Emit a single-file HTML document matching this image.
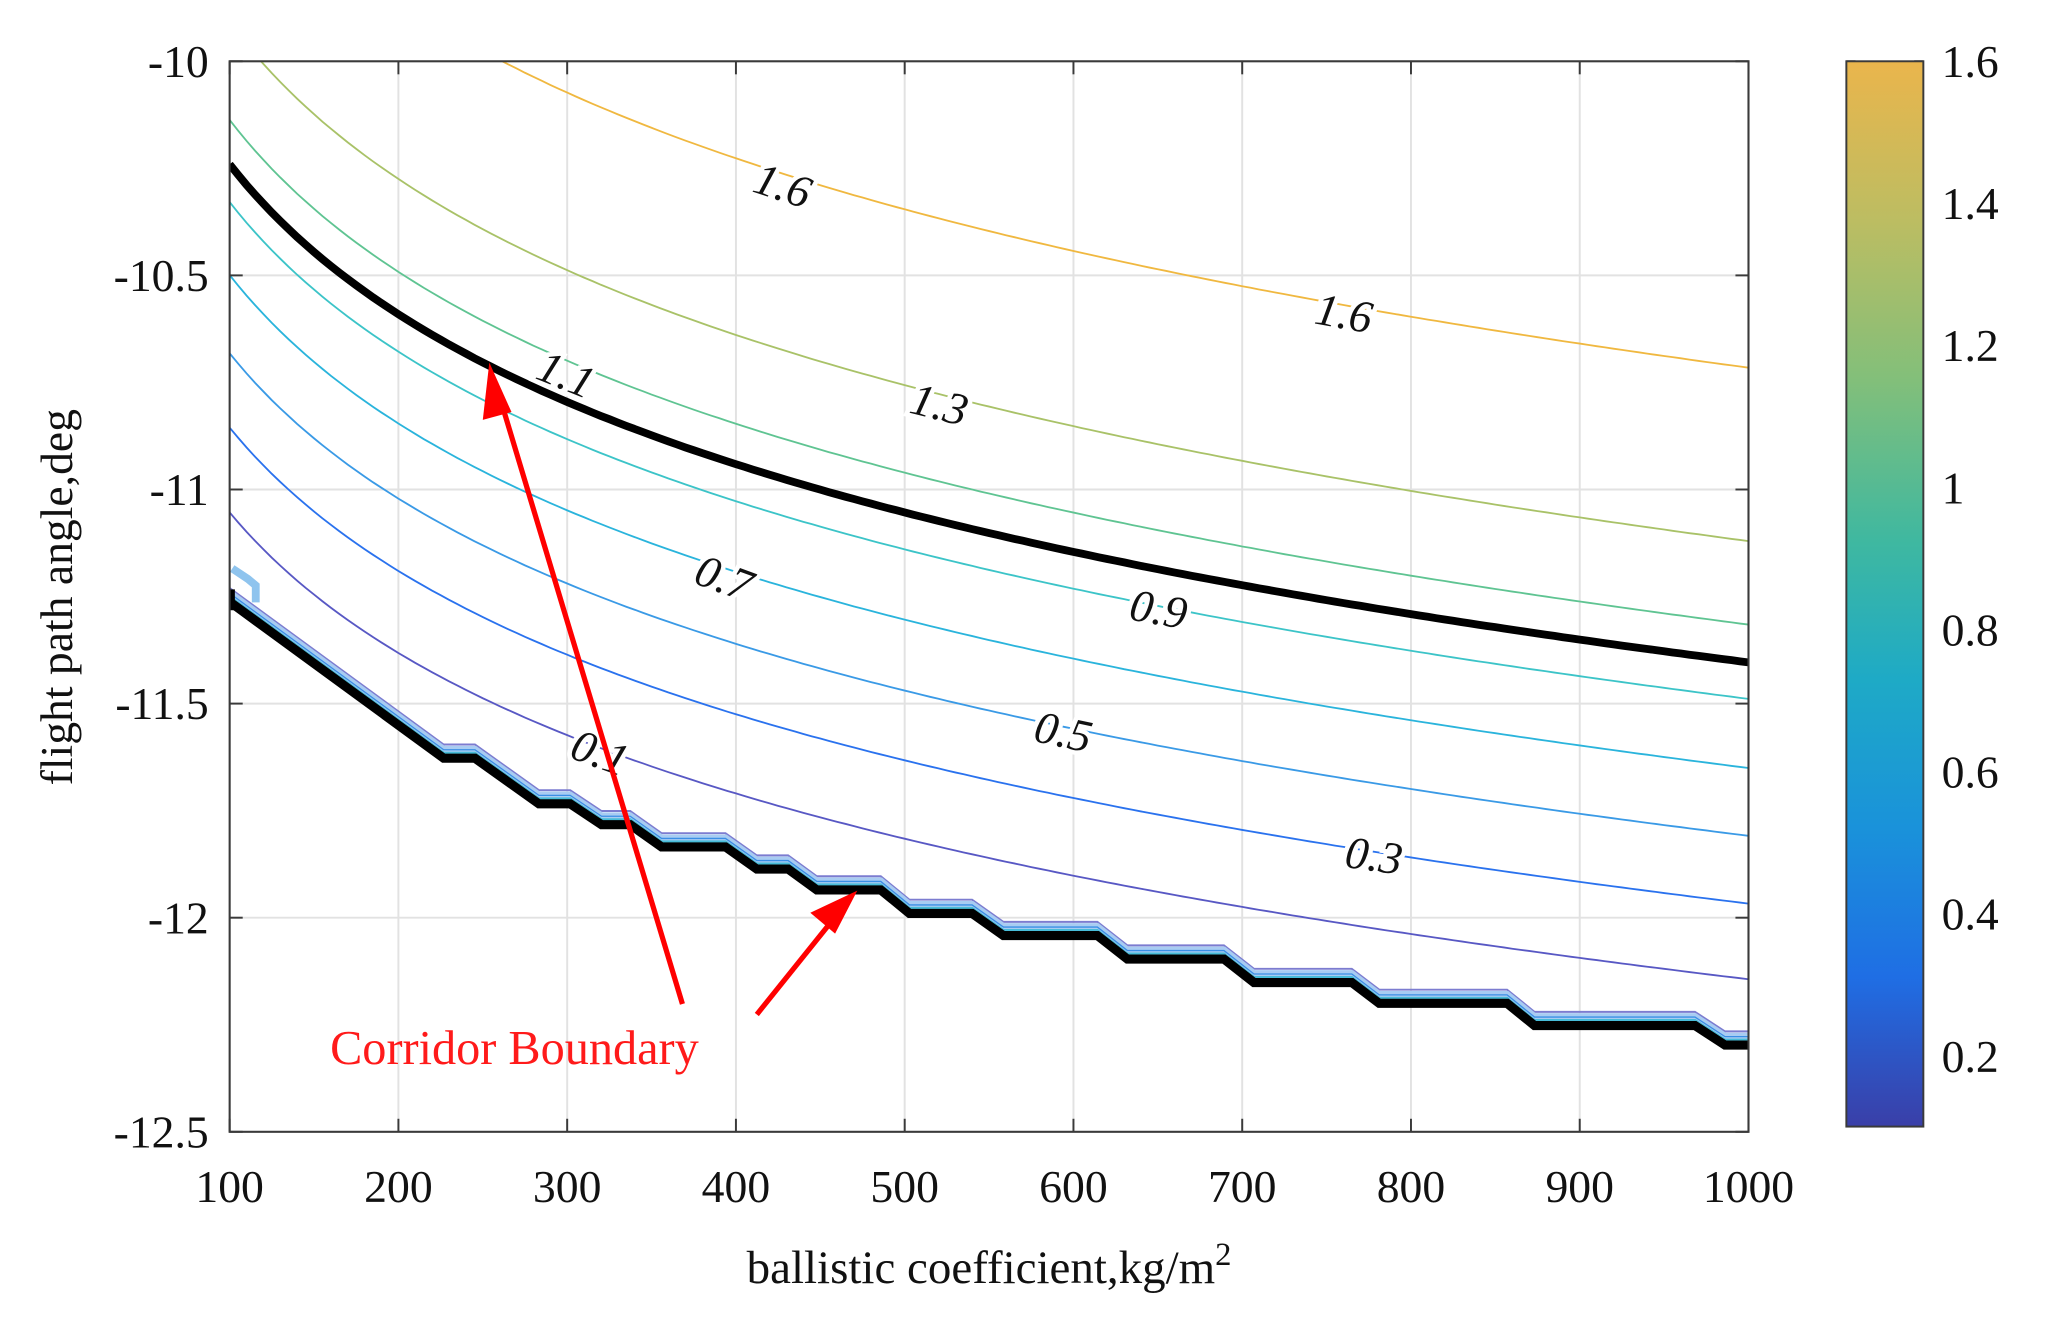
<!DOCTYPE html>
<html><head><meta charset="utf-8"><style>
html,body{margin:0;padding:0;background:#fff;}
svg{display:block;}
text{font-family:"Liberation Serif",serif;}
</style></head><body>
<svg id="s" width="2046" height="1330" viewBox="0 0 1568 1020" preserveAspectRatio="none" xmlns="http://www.w3.org/2000/svg">
<defs>
<linearGradient id="cb" x1="0" y1="0" x2="0" y2="1">
<stop offset="0" stop-color="#eab54c"/>
<stop offset="0.15" stop-color="#bcbd62"/>
<stop offset="0.3" stop-color="#82bf7a"/>
<stop offset="0.45" stop-color="#3fb8a0"/>
<stop offset="0.58" stop-color="#1eaac6"/>
<stop offset="0.72" stop-color="#1a92da"/>
<stop offset="0.86" stop-color="#1f6ee4"/>
<stop offset="1" stop-color="#3a3fa8"/>
</linearGradient>
<clipPath id="pc"><rect x="176" y="47" width="1164" height="821"/></clipPath>
</defs>
<g id="grid" stroke="#e2e2e2" stroke-width="1.5"></g>
<g id="curves" clip-path="url(#pc)" fill="none"></g>
<g id="stairs" clip-path="url(#pc)" fill="none" stroke-linejoin="miter"></g>
<rect x="176" y="47" width="1164" height="821" fill="none" stroke="#3a3a3a" stroke-width="1.6"/>
<g id="ticks" stroke="#3a3a3a" stroke-width="1.5"></g>
<g id="labels" font-size="35" fill="#111" text-anchor="middle" dominant-baseline="central" stroke="#fff" stroke-width="7" paint-order="stroke" font-style="italic">
<text transform="translate(600,142) rotate(18)">1.6</text>
<text transform="translate(1030,240) rotate(10)">1.6</text>
<text transform="translate(434,287) rotate(22)">1.1</text>
<text transform="translate(720,310) rotate(14)">1.3</text>
<text transform="translate(555,443) rotate(20)">0.7</text>
<text transform="translate(888,467) rotate(10)">0.9</text>
<text transform="translate(815,561) rotate(12)">0.5</text>
<text transform="translate(1053,656) rotate(8)">0.3</text>
<text transform="translate(460,577) rotate(20)">0.1</text>
</g>
<g stroke="red" stroke-width="4" fill="red">
<line x1="523" y1="770" x2="381" y2="298"/>
<polygon points="375,278 370,322 392,316" stroke="none"/>
<line x1="580" y1="778" x2="645" y2="697"/>
<polygon points="657,683 621,700 640,716" stroke="none"/>
</g>
<text x="253" y="816" font-size="37" fill="#ff1a1a">Corridor Boundary</text>
<g id="xt" font-size="35" fill="#111" text-anchor="middle"></g>
<g id="yt" font-size="35" fill="#111" text-anchor="end"></g>
<text x="758" y="984" font-size="36" fill="#111" text-anchor="middle">ballistic coefficient,kg/m<tspan dy="-14" font-size="25">2</tspan></text>
<text transform="translate(55,458) rotate(-90)" font-size="35" fill="#111" text-anchor="middle">flight path angle,deg</text>
<rect x="1415" y="47" width="59" height="817" fill="url(#cb)" stroke="#3a3a3a" stroke-width="1.5"/>
<g id="cbt" font-size="35" fill="#111"></g>
</svg>
<script>
var NS="http://www.w3.org/2000/svg";
function el(p,n,a,t){var e=document.createElementNS(NS,n);for(var k in a)e.setAttribute(k,a[k]);if(t)e.textContent=t;document.getElementById(p).appendChild(e);return e;}
function X(b){return 176+(b-100)*1.29333;}
function Y(v){return 47+(-10-v)*328.4;}
for(var b=100;b<=1000;b+=100){var x=X(b);
 if(b>100&&b<1000)el("grid","line",{x1:x,y1:47,x2:x,y2:868});
 el("ticks","line",{x1:x,y1:868,x2:x,y2:858});el("ticks","line",{x1:x,y1:47,x2:x,y2:57});
 el("xt","text",{x:x,y:922},String(b));}
for(var i=0;i<=5;i++){var v=-10-0.5*i,y=Y(v);
 if(i>0&&i<5)el("grid","line",{x1:176,y1:y,x2:1340,y2:y});
 el("ticks","line",{x1:176,y1:y,x2:186,y2:y});el("ticks","line",{x1:1340,y1:y,x2:1330,y2:y});
 el("yt","text",{x:160,y:y+12},String(v));}
var cv=[1.6,1.4,1.2,1,0.8,0.6,0.4,0.2];
for(var i=0;i<cv.length;i++){var y=47+(1.6-cv[i])*545;
 el("ticks","line",{x1:1415,y1:y,x2:1422,y2:y});el("ticks","line",{x1:1474,y1:y,x2:1467,y2:y});
 el("cbt","text",{x:1488,y:y+12},String(cv[i]));}
function g(b){return Math.log(b);}
var g1=g(100),g2=g(1000);
var L=[
 {c:"#f0b840",t:"top",bx:(385-176)/1.29333+100,yR:282},
 {c:"#a9c268",t:"top",bx:(200-176)/1.29333+100,yR:415},
 {c:"#5fc492",yL:92,yR:479},
 {c:"#000",yL:126,yR:508,w:6},
 {c:"#3cc4c8",yL:155,yR:536},
 {c:"#2ab4dc",yL:211,yR:589},
 {c:"#3a9ae6",yL:271,yR:641},
 {c:"#2a72ee",yL:328,yR:693},
 {c:"#5858c4",yL:393,yR:751}
];
L.forEach(function(o){var d="";
 for(var b=100;b<=1000;b+=5){var y;
  if(o.t){var gs=g(o.bx);var sl=(o.yR-47)/(g2-gs);y=o.yR+sl*(g(b)-g2);}
  else y=o.yL+(o.yR-o.yL)*(g(b)-g1)/(g2-g1);
  d+=(d?"L":"M")+X(b).toFixed(1)+","+y.toFixed(1);}
 el("curves","path",{d:d,stroke:o.c,"stroke-width":o.w||1.4});});
var P=[[176,465],[340,585],[364,585],[413,620],[437,620],[461,636],[483,636],[507,653],[556,653],[580,670],[604,670],[626,686],[675,686],[697,704],[745,704],[769,721],[841,721],[864,739],[938,739],[961,757],[1036,757],[1057,773],[1155,773],[1176,790],[1299,790],[1322,805],[1345,805]];
function sp(off){var d="";P.forEach(function(p,i){d+=(i?"L":"M")+p[0]+","+(p[1]+off);});return d;}
el("stairs","path",{d:sp(-14),stroke:"#7c7cd0","stroke-width":1.5});
el("stairs","path",{d:sp(-10.5),stroke:"#a8ccf2","stroke-width":5});
el("stairs","path",{d:sp(-10),stroke:"#3a8ee6","stroke-width":1});
el("stairs","path",{d:sp(-7.5),stroke:"#48bcd8","stroke-width":2});
el("stairs","path",{d:sp(-3.5),stroke:"#000","stroke-width":7});
el("stairs","path",{d:"M178,436 L190,444 L196,449 L196,462",stroke:"#8fc4ee","stroke-width":6});
el("stairs","rect",{x:173,y:452,width:7,height:16,fill:"#000"});
</script>
</body></html>
